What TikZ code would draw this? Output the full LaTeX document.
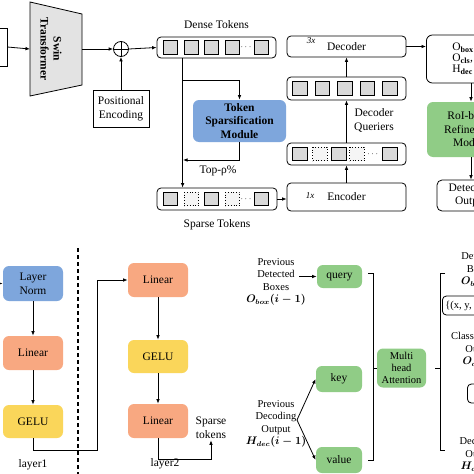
\documentclass[tikz,border=0pt]{standalone}
\usepackage{fontspec}
\setmainfont{Liberation Serif}
\usepackage{amsmath}
\usetikzlibrary{arrows.meta,calc}
\definecolor{cblue}{HTML}{7EA6DC}
\definecolor{corange}{HTML}{F8A881}
\definecolor{cyellow}{HTML}{FAD65A}
\definecolor{cgreen}{HTML}{90CC86}
\definecolor{cgray}{HTML}{D9D9D9}
\begin{document}
\begin{tikzpicture}[x=1pt,y=-1pt,line width=0.8pt,
  >={Latex[length=4.5pt,width=3.6pt]},
  every node/.style={font=\fontsize{11.5}{14}\selectfont},
  plainbox/.style={draw, inner sep=1pt, align=center},
  rbox/.style={draw, rounded corners=4pt, inner sep=0pt, align=center},
  cbox/.style={rounded corners=6pt, inner sep=1pt, align=center},
  tok/.style={draw, fill=cgray, minimum width=14.5pt, minimum height=13.5pt, inner sep=0pt, line width=0.7pt},
  dtok/.style={draw, dotted, fill=gray!8, minimum width=14.5pt, minimum height=13.5pt, inner sep=0pt, line width=0.8pt},
  dotsn/.style={inner sep=0pt, font=\fontsize{9}{10}\selectfont},
  lbl/.style={font=\fontsize{10.5}{12.5}\selectfont, align=center, inner sep=0pt},
  rep/.style={font=\itshape\fontsize{9}{10}\selectfont, inner sep=0pt},
]
\useasboundingbox (0,0) rectangle (474,474);
\fill[white] (0,0) rectangle (474,474);
\clip (0,0) rectangle (474,474);

% ---------------- top part ----------------
\node[draw, minimum width=27pt, minimum height=38pt, inner sep=0pt] (inp) at (-6.5,47) {};
\draw[fill=gray!22] (30,2) -- (82,14) -- (82,85) -- (30,96) -- cycle;
\node[rotate=-90, align=center, font=\bfseries\fontsize{11.5}{13}\selectfont] (swin) at (51,49) {Swin\\Transformer};
\coordinate (swinL) at (30,49);
\coordinate (swinR) at (82,49);
\draw[->] (inp.east) -- (swinL);

\node[circle, draw, minimum size=15pt, inner sep=0pt] (plus) at (121,49) {};
\draw (plus.north) -- (plus.south) (plus.west) -- (plus.east);
\draw[->] (swinR) -- (plus.west);
\node[plainbox, minimum width=56pt, minimum height=37pt] (pe) at (121,108.5) {Positional\\Encoding};
\draw[->] (pe.north) -- (plus.south);

% dense tokens
\node[rbox, minimum width=119pt, minimum height=21pt] (dense) at (216.5,47.5) {};
\node (dlab) at (216.5,25) {Dense Tokens};
\foreach \i/\x in {1/170.5,2/191.5,3/211.5,4/232.3,6/261.3} \node[tok] (d\i) at (\x,47.5) {};
\node[dotsn] (d5) at (246.8,47.5) {$\cdots$};
\draw[->] (plus.east) -- (dense.west);

% token sparsification
\node[cbox, fill=cblue, minimum width=93pt, minimum height=42pt, font=\bfseries\fontsize{11.5}{13.5}\selectfont] (tsm) at (239.5,121) {Token\\Sparsification\\Module};

% sparse tokens
\node[rbox, minimum width=120pt, minimum height=22pt] (sparse) at (217,199) {};
\foreach \i/\x in {1/170.5,3/211.5,6/261.3} \node[tok] (s\i) at (\x,199) {};
\foreach \i/\x in {2/191.5,4/232.5} \node[dtok] (s\i) at (\x,199) {};
\node[dotsn] (s5) at (246.8,199) {$\cdots$};
\node (slab) at (217,225) {Sparse Tokens};

\draw[->] ([xshift=26pt]dense.south west) -- ([xshift=26pt]sparse.north west);
\draw[->] ([xshift=26pt,yshift=-22pt]dense.south west) -| (tsm.north);
\coordinate (tj) at (183,160);
\draw[->] (tsm.south) |- (tj);
\node (topr) at (218,171) {Top-ρ\%};

% encoder
\node[rbox, minimum width=119pt, minimum height=28pt] (enc) at (346.5,197) {Encoder};
\node[rep] (enc1x) at (310,196) {1x};
\draw[->] (sparse.east) -- (sparse.east -| enc.west);

% decoder queries
\node[rbox, minimum width=119pt, minimum height=22pt] (qry) at (346.5,154) {};
\foreach \i/\x in {1/300,3/339,6/390} \node[tok] (q\i) at (\x,154) {};
\foreach \i/\x in {2/320,4/357} \node[dtok] (q\i) at (\x,154) {};
\node[dotsn] (q5) at (373.5,154) {$\cdots$};
\draw[->] (enc.north) -- (qry.south);
\node[align=center] (dqlab) at (374,120.5) {Decoder\\Queriers};

% decoder row
\node[rbox, minimum width=119pt, minimum height=23pt] (drow) at (346.5,88.5) {};
\foreach \i/\x in {1/300,2/322.5,3/345,4/367.5,5/390} \node[tok] (r\i) at (\x,88.5) {};
\draw[->] (qry.north) -- (drow.south);

% decoder
\node[rbox, minimum width=119pt, minimum height=21pt] (dec) at (346.5,46.5) {Decoder};
\node[rep] (dec3x) at (311,41) {3x};
\draw[->] (drow.north) -- (dec.south);

% outputs
\node[draw, rounded corners=6pt, anchor=west, text width=60pt, inner xsep=26pt, minimum height=48pt, align=left, inner ysep=0pt, font=\fontsize{11.5}{11}\selectfont] (out) at (426,59) {O$_{\textbf{box}}$,\\O$_{\textbf{cls}}$,\\H$_{\textbf{dec}}$};
\draw[->] (dec.east) -- (dec.east -| out.west);
\node[cbox, fill=cgreen, minimum width=88pt, minimum height=55pt, font=\fontsize{11.5}{13.5}\selectfont] (roi) at (471,129.5) {RoI-based\\Refinement\\Module};
\draw[->] (out.south -| roi.north) -- (roi.north);
\node[rbox, rounded corners=5pt, minimum width=68pt, minimum height=31pt, font=\fontsize{11.5}{12.5}\selectfont] (det) at (471,195.5) {Detection\\Output};
\draw[->] (roi.south) -- (det.north);

% ---------------- bottom left ----------------
\node[cbox, fill=cblue, minimum width=60pt, minimum height=35pt] (ln) at (33,283.5) {Layer\\Norm};
\coordinate (lnin) at (-4,283.5);
\draw[->] (lnin) -- (ln.west);
\node[cbox, fill=corange, minimum width=60pt, minimum height=34pt] (l1) at (33,353) {Linear};
\node[cbox, fill=cyellow, minimum width=60pt, minimum height=33pt] (g1) at (33,421.5) {GELU};
\draw[->] (ln.south) -- (l1.north);
\draw[->] (l1.south) -- (g1.north);

\node[cbox, fill=corange, minimum width=60pt, minimum height=34pt] (l2) at (158,280) {Linear};
\node[cbox, fill=cyellow, minimum width=60pt, minimum height=33pt] (g2) at (158,356.5) {GELU};
\node[cbox, fill=corange, minimum width=60pt, minimum height=34pt] (l3) at (158,421) {Linear};
\draw[->] (l2.south) -- (g2.north);
\draw[->] (g2.south) -- (l3.north);

\coordinate (c1) at (97,450);
\draw[->] (g1.south) |- (c1) |- (l2.west);

\coordinate (dtop) at (78,248);
\coordinate (dbot) at (78,476);
\draw[line width=1.1pt, dash pattern=on 4pt off 3pt] (dtop) -- (dbot);

\node (lay1) at (33,465) {layer1};
\node[align=center, inner sep=1pt] (st) at (211,428) {Sparse\\tokens};
\coordinate (c2) at (211,459);
\draw[->] (l3.south) |- (c2) -- (st.south);
\node (lay2) at (165,464) {layer2};

% ---------------- bottom right ----------------
\node[lbl] (pdb) at (276,282) {Previous\\Detected\\Boxes\\$\boldsymbol{O_{box}(i-1)}$};
\coordinate (pa) at (299,276.5);
\node[cbox, fill=cgreen, minimum width=45pt, minimum height=23pt] (q) at (339.5,276.5) {query};
\draw[->] (pa) -- (q.west);
\node[cbox, fill=cgreen, minimum width=46pt, minimum height=26pt] (k) at (339,379) {key};
\node[cbox, fill=cgreen, minimum width=46pt, minimum height=26pt] (v) at (339,460) {value};
\node[lbl] (pdo) at (276,424) {Previous\\Decoding\\Output\\$\boldsymbol{H_{dec}(i-1)}$};
\coordinate (pb) at (297,420);
\draw[->] (pb) -- (k.west);
\draw[->] (pb) -- (v.west);

\node[cbox, fill=cgreen, minimum width=49pt, minimum height=39pt, font=\fontsize{10.5}{12}\selectfont] (mha) at (401.5,368) {Multi\\head\\Attention};
\draw (368,273) -- (373,273) -- (373,460) -- (368,460);
\draw (373,368) -- (mha.west);
\draw (445,273) -- (440,273) -- (440,450) -- (445,450);
\draw (435,368) -- (440,368);

\node[lbl] (ob) at (480,270) {Detected\\Boxes\\$\boldsymbol{O_{box}(i)}$};
\node[draw, rounded corners=4pt, anchor=west, minimum height=19pt, inner sep=3pt, font=\fontsize{10.5}{12}\selectfont] (bx) at (442,305.5) {\{(x, y, w, h)\}};
\node[lbl] (oc) at (480,350) {Classification\\Output\\$\boldsymbol{O_{cls}(i)}$};
\node[draw, rounded corners=4pt, anchor=west, minimum height=19pt, minimum width=40pt] (cx) at (467,393.5) {};
\node[lbl] (hd) at (480,455) {Decoding\\Output\\$\boldsymbol{H_{dec}(i)}$};
\end{tikzpicture}
\end{document}
